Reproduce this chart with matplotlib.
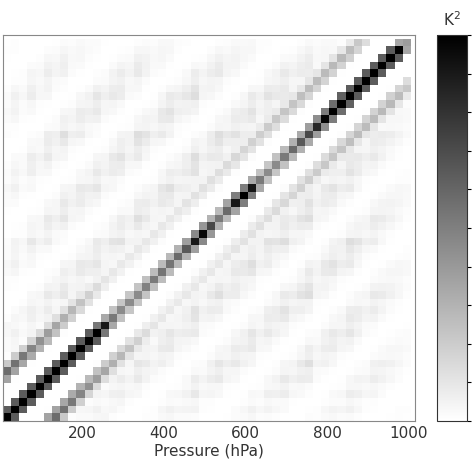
import numpy as np
import matplotlib
matplotlib.use("Agg")
import matplotlib.pyplot as plt

# pressure level centres (hPa)
pressure = np.arange(15, 1000, 20)
# diagonal variance (normalised, K^2 scale 0..1)
diag_var = [1.0, 1.0, 1.0, 1.0, 1.0, 1.0, 1.0, 1.0, 1.0, 1.0,
            1.0, 1.0, 0.7, 0.4, 0.35, 0.35, 0.35, 0.38, 0.4, 0.42,
            0.42, 0.45, 0.5, 0.7, 0.75, 0.55, 0.4, 0.45, 0.7, 0.9,
            0.7, 0.4, 0.35, 0.35, 0.4, 0.45, 0.5, 0.55, 0.65, 0.75,
            0.85, 0.95, 1.0, 1.0, 1.0, 1.0, 1.0, 1.0, 1.0, 0.3]
# strength of the side bands per level
band_strength = [1.2, 1.2, 1.2, 1.2, 1.2, 1.2, 1.2, 1.1, 1.0, 0.8,
                 0.6, 0.4, 0.25, 0.2, 0.18, 0.18, 0.18, 0.18, 0.18, 0.18,
                 0.18, 0.18, 0.2, 0.2, 0.2, 0.2, 0.2, 0.22, 0.25, 0.28,
                 0.3, 0.32, 0.35, 0.38, 0.4, 0.42, 0.45, 0.48, 0.5, 0.52,
                 0.55, 0.55, 0.6, 0.6, 0.6, 0.6, 0.6, 0.6, 0.5, 0.3]
# faint background texture per level
background = [0.1, 0.2, 0.1, 0.25, 0.15, 0.3, 0.2, 0.35, 0.2, 0.3,
              0.25, 0.35, 0.2, 0.3, 0.35, 0.2, 0.4, 0.3, 0.2, 0.35,
              0.4, 0.25, 0.3, 0.45, 0.2, 0.3, 0.4, 0.25, 0.35, 0.3,
              0.4, 0.2, 0.35, 0.3, 0.4, 0.25, 0.35, 0.45, 0.2, 0.3,
              0.35, 0.25, 0.4, 0.3, 0.2, 0.3, 0.25, 0.2, 0.15, 0.1]
band_period = 120.0   # hPa
band_width = 140.0

s = np.sqrt(np.array(diag_var))
b = np.array(band_strength)
g = np.array(background)
d = pressure[:, None] - pressure[None, :]
osc = np.cos(2 * np.pi * d / band_period) * np.exp(-(d / band_width) ** 2)
main = np.abs(d) < band_period / 2
amp = np.where(main, 1.3 * s[:, None] * s[None, :],
               0.5 * (b[:, None] + b[None, :]))
M = np.clip(amp * osc, 0, None)
bg = 0.8 * np.outer(g, g) * (0.5 + 0.5 * np.cos(2 * np.pi * d / 200.0))
M = np.maximum(M, bg * (np.abs(d) > 60))

edges = np.arange(5, 1016, 20)

fig = plt.figure(figsize=(4.74, 4.74), dpi=100)
ax = fig.add_axes([3/474, 53/474, 412/474, 386/474])
mesh = ax.pcolormesh(edges, edges, M, cmap="gray_r", vmin=0, vmax=1)
ax.set_xlim(5, 1015)
ax.set_ylim(5, 1015)
ax.set_xticks([200, 400, 600, 800, 1000])
ax.set_yticks([])
ax.tick_params(axis="x", length=0, labelsize=11, colors="#333333")
ax.set_xlabel("Pressure (hPa)", fontsize=11, color="#333333", labelpad=2)
for sp in ax.spines.values():
    sp.set_color("#888888")

cax = fig.add_axes([437/474, 53/474, 30/474, 386/474])
cb = fig.colorbar(mesh, cax=cax, ticks=np.linspace(0, 1, 11))
cb.ax.tick_params(length=3, labelright=False)
cb.outline.set_color("#333333")
fig.text(452/474, 1 - 20/474, "K$^2$", ha="center", va="center", fontsize=11, color="#333333")

fig.savefig("out.png", dpi=100)
